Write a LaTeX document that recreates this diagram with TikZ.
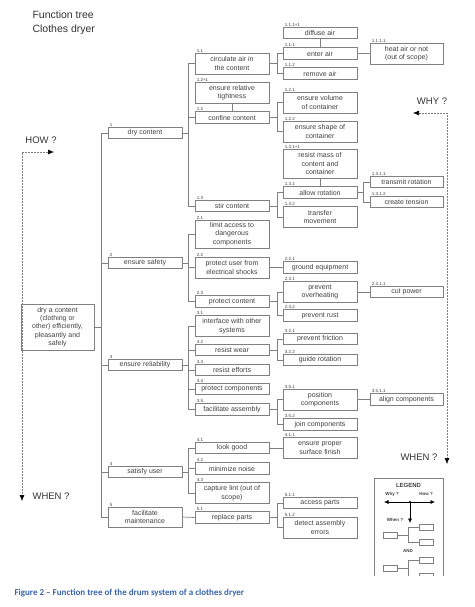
\documentclass[tikz,border=0pt]{standalone}
\usepackage{fontspec}
\setmainfont{Liberation Sans}
\newfontfamily\capfont{Carlito}
\usetikzlibrary{arrows.meta}

\definecolor{linegray}{gray}{0.5}
\definecolor{textgray}{gray}{0.25}
\definecolor{capblue}{RGB}{58,100,170}

\begin{document}
\begin{tikzpicture}[x=1pt,y=-1pt,
  fn/.style={draw=linegray, line width=0.7pt, text=textgray, minimum width=74,
    minimum height=11.5, inner sep=0.5pt, align=center,
    font=\fontsize{7}{8.4}\selectfont},
  num/.style={anchor=south west, xshift=1.5pt, inner sep=0.4pt, text=textgray,
    font=\fontsize{4.5}{5}\selectfont},
  tree/.style={draw=linegray, line width=0.7pt},
  ask/.style={text=black!80, font=\fontsize{9.5}{11}\selectfont},
  askline/.style={draw=linegray, line width=0.6pt, dash pattern=on 2pt off 1pt,
    {Latex[length=6pt,width=5pt,black]}-{Latex[length=6pt,width=5pt,black]}},
  legarrow/.style={line width=0.6pt, -{Latex[length=4.5pt,width=4pt]}},
  lbox/.style={draw=linegray, line width=0.6pt, minimum width=14, minimum height=6, inner sep=0pt},
  legsmall/.style={text=textgray, inner sep=0pt, font=\bfseries\fontsize{4.5}{5}\selectfont}]
\useasboundingbox (0,0) rectangle (474,607);

% title
\node[anchor=west, text=black!80, font=\fontsize{10.5}{12}\selectfont] (title1) at (29,15) {Function tree};
\node[anchor=west, text=black!80, font=\fontsize{10.5}{12}\selectfont] (title2) at (29,30) {Clothes dryer};

% root
\node[fn, minimum width=73, minimum height=46] (root) at (57.5,327)
  {dry a content\\(clothing or\\other) efficiently,\\pleasantly and\\safely};

% level 1
\node[fn, label={[num]north west:1}] (l1) at (145,133) {dry content};
\node[fn, label={[num]north west:2}] (l2) at (145,263) {ensure safety};
\node[fn, label={[num]north west:3}] (l3) at (145,365) {ensure reliability};
\node[fn, label={[num]north west:4}] (l4) at (145,472) {satisfy user};
\node[fn, minimum height=20, label={[num]north west:5}] (l5) at (145,517) {facilitate\\maintenance};

% level 2
\node[fn, minimum height=21, label={[num]north west:1.1}] (f11) at (232,63.5) {circulate air in\\the content};
\node[fn, minimum height=21, label={[num]north west:1.2+1}] (f12a) at (232,92.5) {ensure relative\\tightness};
\node[fn, label={[num]north west:1.2}] (f12) at (232,117.5) {confine content};
\node[fn, label={[num]north west:1.3}] (f13) at (232,206) {stir content};
\node[fn, minimum height=28, label={[num]north west:2.1}] (f21) at (232,234) {limit access to\\dangerous\\components};
\node[fn, minimum height=21, label={[num]north west:2.2}] (f22) at (232,267.5) {protect user from\\electrical shocks};
\node[fn, label={[num]north west:2.3}] (f23) at (232,301.5) {protect content};
\node[fn, minimum height=21, label={[num]north west:3.1}] (f31) at (232,326) {interface with other\\systems};
\node[fn, label={[num]north west:3.2}] (f32) at (232,350) {resist wear};
\node[fn, label={[num]north west:3.3}] (f33) at (232,370) {resist efforts};
\node[fn, label={[num]north west:3.4}] (f34) at (232,389) {protect components};
\node[fn, label={[num]north west:3.5}] (f35) at (232,409.5) {facilitate assembly};
\node[fn, label={[num]north west:4.1}] (f41) at (232,448) {look good};
\node[fn, label={[num]north west:4.2}] (f42) at (232,468.5) {minimize noise};
\node[fn, minimum height=21, label={[num]north west:4.3}] (f43) at (232,493) {capture lint (out of\\scope)};
\node[fn, label={[num]north west:5.1}] (f51) at (232,517.5) {replace parts};

% level 3
\node[fn, label={[num]north west:1.1.1+1}] (g111a) at (320,33) {diffuse air};
\node[fn, label={[num]north west:1.1.1}] (g111) at (320,53.5) {enter air};
\node[fn, label={[num]north west:1.1.2}] (g112) at (320,73.5) {remove air};
\node[fn, minimum height=21, label={[num]north west:1.2.1}] (g121) at (320,102.5) {ensure volume\\of container};
\node[fn, minimum height=21, label={[num]north west:1.2.2}] (g122) at (320,131.5) {ensure shape of\\container};
\node[fn, minimum height=29, label={[num]north west:1.3.1+1}] (g131a) at (320,163.5) {resist mass of\\content and\\container};
\node[fn, label={[num]north west:1.3.1}] (g131) at (320,192.5) {allow rotation};
\node[fn, minimum height=21, label={[num]north west:1.3.2}] (g132) at (320,217) {transfer\\movement};
\node[fn, label={[num]north west:2.2.1}] (g221) at (320,267.5) {ground equipment};
\node[fn, minimum height=21, label={[num]north west:2.3.1}] (g231) at (320,292) {prevent\\overheating};
\node[fn, label={[num]north west:2.3.2}] (g232) at (320,315.5) {prevent rust};
\node[fn, label={[num]north west:3.2.1}] (g321) at (320,339) {prevent friction};
\node[fn, label={[num]north west:3.2.2}] (g322) at (320,360) {guide rotation};
\node[fn, minimum height=21, label={[num]north west:3.5.1}] (g351) at (320,399.5) {position\\components};
\node[fn, label={[num]north west:3.5.2}] (g352) at (320,424.5) {join components};
\node[fn, minimum height=21, label={[num]north west:4.1.1}] (g411) at (320,448) {ensure proper\\surface finish};
\node[fn, label={[num]north west:5.1.1}] (g511) at (320,503) {access parts};
\node[fn, minimum height=21, label={[num]north west:5.1.2}] (g512) at (320,527.5) {detect assembly\\errors};

% level 4
\node[fn, minimum width=73, minimum height=21, label={[num]north west:1.1.1.1}] (h1111) at (406.5,53.5) {heat air or not\\(out of scope)};
\node[fn, minimum width=73, label={[num]north west:1.3.1.1}] (h1311) at (406.5,182) {transmit rotation};
\node[fn, minimum width=73, label={[num]north west:1.3.1.2}] (h1312) at (406.5,202) {create tension};
\node[fn, minimum width=73, label={[num]north west:2.3.1.1}] (h2311) at (406.5,292) {cut power};
\node[fn, minimum width=73, label={[num]north west:3.5.1.1}] (h3511) at (406.5,399.5) {align components};

% root -> level 1
\draw[tree] (root.east) -- ++(7,0) coordinate (s0);
\draw[tree] (s0) |- (l1.west) (s0) |- (l2.west) (s0) |- (l3.west) (s0) |- (l4.west) (s0) |- (l5.west);

% level 1 -> level 2
\draw[tree] (l1.east) -- ++(6,0) coordinate (s1);
\draw[tree] (s1) |- (f11.west) (s1) |- (f12.west) (s1) |- (f13.west);
\draw[tree] (l2.east) -- ++(6,0) coordinate (s2);
\draw[tree] (s2) |- (f21.west) (s2) |- (f22.west) (s2) |- (f23.west);
\draw[tree] (l3.east) -- ++(6,0) coordinate (s3);
\draw[tree] (s3) |- (f31.west) (s3) |- (f32.west) (s3) |- (f33.west) (s3) |- (f34.west) (s3) |- (f35.west);
\draw[tree] (l4.east) -- ++(6,0) coordinate (s4);
\draw[tree] (s4) |- (f41.west) (s4) |- (f42.west) (s4) |- (f43.west);
\draw[tree] (l5.east) -- (f51.west);

% level 2 -> level 3
\draw[tree] (f11.east) -- ++(8,0) coordinate (s11);
\draw[tree] (s11) |- (g111.west) (s11) |- (g112.west);
\draw[tree] (f12.east) -- ++(8,0) coordinate (s12);
\draw[tree] (s12) |- (g121.west) (s12) |- (g122.west);
\draw[tree] (f13.east) -- ++(8,0) coordinate (s13);
\draw[tree] (s13) |- (g131.west) (s13) |- (g132.west);
\draw[tree] (f22.east) -- (g221.west);
\draw[tree] (f23.east) -- ++(8,0) coordinate (s23);
\draw[tree] (s23) |- (g231.west) (s23) |- (g232.west);
\draw[tree] (f32.east) -- ++(8,0) coordinate (s32);
\draw[tree] (s32) |- (g321.west) (s32) |- (g322.west);
\draw[tree] (f35.east) -- ++(8,0) coordinate (s35);
\draw[tree] (s35) |- (g351.west) (s35) |- (g352.west);
\draw[tree] (f41.east) -- (g411.west);
\draw[tree] (f51.east) -- ++(8,0) coordinate (s51);
\draw[tree] (s51) |- (g511.west) (s51) |- (g512.west);

% level 3 -> level 4
\draw[tree] (g111.east) -- (h1111.west);
\draw[tree] (g131.east) -- ++(6,0) coordinate (s131);
\draw[tree] (s131) |- (h1311.west) (s131) |- (h1312.west);
\draw[tree] (g231.east) -- (h2311.west);
\draw[tree] (g351.east) -- (h3511.west);

% +1 links
\draw[tree] (f12a) -- (f12);
\draw[tree] (g111a) -- (g111);
\draw[tree] (g131a) -- (g131);

% how / why / when
\node[ask] (how) at (41,140) {HOW ?};
\coordinate (howtip) at (54,152);
\coordinate (whenltip) at (22,501);
\node[ask, anchor=west] (whenl) at (29,496) {WHEN ?};
\draw[askline] (howtip) -| (whenltip);

\node[ask] (why) at (432,101) {WHY ?};
\coordinate (whytip) at (413,113);
\coordinate (whenrtip) at (447,464);
\node[ask, anchor=east] (whenr) at (441,457) {WHEN ?};
\draw[askline] (whytip) -| (whenrtip);

% legend
\begin{scope}
\clip (368,470) rectangle (450,575);
\draw[draw=linegray, line width=0.7pt] (374,478) rectangle (443,600);
\node[text=textgray, font=\bfseries\fontsize{6}{7}\selectfont] (legend) at (408.5,485) {LEGEND};
\node[legsmall] (lwhy) at (392,494) {Why ?};
\node[legsmall] (lhow) at (426,494) {How ?};
\coordinate (lmid) at (410,502);
\coordinate (lleft) at (384,502);
\coordinate (lright) at (435,502);
\coordinate (ldown) at (410,523);
\draw[legarrow] (lmid) -- (lleft);
\draw[legarrow] (lmid) -- (lright);
\draw[legarrow] (lmid) -- (ldown);
\fill (lmid) circle (1.2);
\node[legsmall] (lwhen) at (395,520) {When ?};
\node[lbox] (la) at (390,535) {};
\node[lbox] (lb) at (426.5,527) {};
\node[lbox] (lc) at (426.5,542) {};
\draw[tree] (la.east) -- ++(11,0) coordinate (ls1);
\draw[tree] (ls1) |- (lb.west) (ls1) |- (lc.west);
\node[legsmall] (land) at (408,551) {AND};
\node[lbox] (ld) at (390,568) {};
\node[lbox] (le) at (426.5,560) {};
\node[lbox] (lf) at (426.5,576) {};
\draw[tree] (ld.east) -- ++(11,0) coordinate (ls2);
\draw[tree] (ls2) |- (le.west) (ls2) |- (lf.west);
\end{scope}

% caption
\node[anchor=west, text=capblue, font=\capfont\bfseries\fontsize{9}{10.8}\selectfont] (caption) at (11,593)
  {Figure 2 – Function tree of the drum system of a clothes dryer};
\end{tikzpicture}
\end{document}
